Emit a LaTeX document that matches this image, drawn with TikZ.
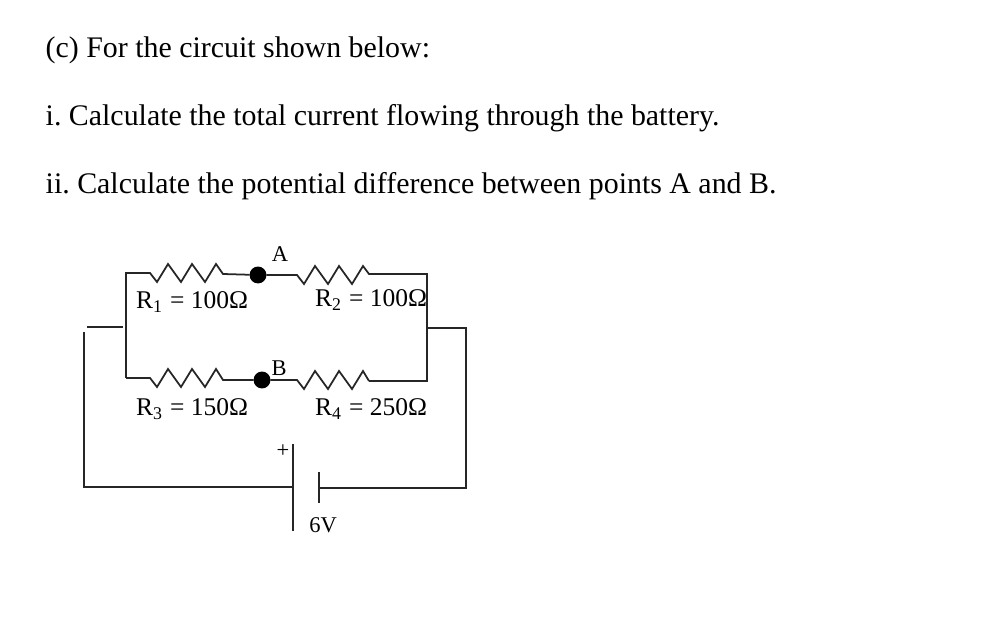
\documentclass[tikz,border=0pt]{standalone}
\usepackage{fontspec}
\setmainfont{Liberation Serif}
\frenchspacing
\tikzset{
  question/.style={anchor=base west, inner sep=0pt, font=\fontsize{8.5}{10}\selectfont},
  value/.style={anchor=base, inner sep=0pt, font=\fontsize{7.25}{8}\selectfont},
  tag/.style={anchor=base, inner sep=0pt, font=\fontsize{6.4}{8}\selectfont},
  wire/.style={line width=.5pt, black!85},
  point/.style={draw=black, fill=black, circle, inner sep=0pt, minimum size=4.4pt},
  resistor/.style={to path={-- ++(7,9) -- ++(11,-18) -- ++(13,18) -- ++(11,-18) -- ++(13,18) -- ++(11,-18) -- (\tikztotarget)}}
}
\begin{document}
\begin{tikzpicture}[x=.01cm, y=-.01cm]
    \useasboundingbox (0,0) rectangle (989,619);

    \node[question](line_1) at (45,58){(c) For the circuit shown below:};
    \node[question](line_2) at (45,126){i. Calculate the total current flowing through the battery.};
    \node[question](line_3) at (45,194){ii. Calculate the potential difference between points A and B.};

    \node[point](dot_A) at (258,275){};
    \node[point](dot_B) at (262,380){};
    \node[tag](label_A) at (280,262){A};
    \node[tag](label_B) at (279,376){B};
    \node[value](label_R1) at (192,309){R\textsubscript{1} = 100Ω};
    \node[value](label_R2) at (371,307){R\textsubscript{2} = 100Ω};
    \node[value](label_R3) at (192,416){R\textsubscript{3} = 150Ω};
    \node[value](label_R4) at (371,416){R\textsubscript{4} = 250Ω};
    \node[tag](label_plus) at (283,457){+};
    \node[tag](label_6V) at (323,532){6V};

    \coordinate (top_left) at (126,273);
    \coordinate (R1_a) at (150,273);
    \coordinate (R1_b) at (223,274);
    \coordinate (R2_a) at (297,275);
    \coordinate (R2_b) at (369,274);
    \coordinate (top_right) at (427,274);
    \coordinate (bot_left) at (126,378);
    \coordinate (R3_a) at (150,378);
    \coordinate (R3_b) at (223,380);
    \coordinate (R4_a) at (297,380);
    \coordinate (R4_b) at (369,381);
    \coordinate (bot_right) at (427,381);
    \coordinate (stub_a) at (87,327);
    \coordinate (stub_b) at (123,327);
    \coordinate (left_top) at (84,332);
    \coordinate (left_bot) at (84,487);
    \coordinate (mid_right) at (427,328);
    \coordinate (out_right) at (466,328);
    \coordinate (low_right) at (466,488);
    \coordinate (plate_1a) at (293,444);
    \coordinate (plate_1b) at (293,531);
    \coordinate (plate_1m) at (293,487);
    \coordinate (plate_2a) at (319,472);
    \coordinate (plate_2b) at (319,503);
    \coordinate (plate_2m) at (319,488);

    \draw[wire](bot_left)--(top_left)--(R1_a) to[resistor] (R1_b)--(dot_A);
    \draw[wire](dot_A)--(R2_a) to[resistor] (R2_b)--(top_right)--(bot_right)--(R4_b);
    \draw[wire](bot_left)--(R3_a) to[resistor] (R3_b)--(dot_B);
    \draw[wire](dot_B)--(R4_a) to[resistor] (R4_b);
    \draw[wire](stub_a)--(stub_b);
    \draw[wire](left_top)--(left_bot)--(plate_1m);
    \draw[wire](mid_right)--(out_right)--(low_right)--(plate_2m);
    \draw[wire](plate_1a)--(plate_1b);
    \draw[wire](plate_2a)--(plate_2b);
\end{tikzpicture}
\end{document}
